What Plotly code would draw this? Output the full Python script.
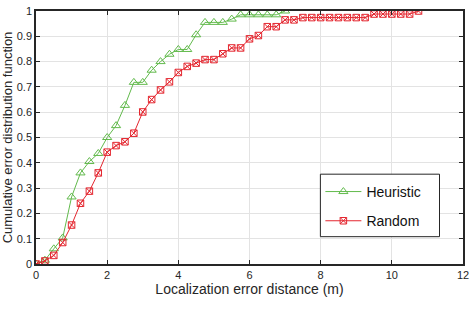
import plotly.graph_objects as go

heur_x = [0, 0.25, 0.5, 0.75, 1.0, 1.25, 1.5, 1.75, 2.0, 2.25, 2.5, 2.75, 3.0, 3.25, 3.5,
          3.75, 4.0, 4.25, 4.5, 4.75, 5.0, 5.25, 5.5, 5.75, 6.0, 6.25, 6.5, 6.75, 7.0]
heur_y = [0, 0.015, 0.06, 0.103, 0.265, 0.36, 0.405, 0.437, 0.5, 0.547, 0.627, 0.718, 0.718,
          0.766, 0.8, 0.829, 0.848, 0.848, 0.906, 0.955, 0.955, 0.955, 0.968, 0.985, 0.985,
          0.985, 0.985, 0.985, 1.0]

rand_x = [0, 0.25, 0.5, 0.75, 1.0, 1.25, 1.5, 1.75, 2.0, 2.25, 2.5, 2.75, 3.0, 3.25, 3.5,
          3.75, 4.0, 4.25, 4.5, 4.75, 5.0, 5.25, 5.5, 5.75, 6.0, 6.25, 6.5, 6.75, 7.0, 7.25,
          7.5, 7.75, 8.0, 8.25, 8.5, 8.75, 9.0, 9.25, 9.5, 9.75, 10.0, 10.25, 10.5, 10.75]
rand_y = [0, 0.012, 0.034, 0.085, 0.154, 0.24, 0.288, 0.36, 0.442, 0.468, 0.483, 0.517,
          0.601, 0.65, 0.688, 0.72, 0.757, 0.781, 0.794, 0.808, 0.808, 0.831, 0.854, 0.854,
          0.89, 0.903, 0.938, 0.938, 0.965, 0.965, 0.974, 0.974, 0.974, 0.974, 0.974, 0.974,
          0.974, 0.974, 0.988, 0.988, 0.988, 0.988, 0.988, 1.0]

x_ticks = [0, 2, 4, 6, 8, 10, 12]
y_ticks = [0, 0.1, 0.2, 0.3, 0.4, 0.5, 0.6, 0.7, 0.8, 0.9, 1]
y_tick_text = ["0", "0.1", "0.2", "0.3", "0.4", "0.5", "0.6", "0.7", "0.8", "0.9", "1"]

GREEN = "#62BA4C"
RED = "#E4262F"
AX = "#262626"

fig = go.Figure()
fig.add_trace(go.Scatter(x=heur_x, y=heur_y, mode="lines+markers", name="Heuristic",
                         legendgroup="a",
                         line=dict(color=GREEN, width=1),
                         marker=dict(symbol="triangle-up-open", size=8, color=GREEN,
                                     line=dict(width=1))))
fig.add_trace(go.Scatter(x=rand_x, y=rand_y, mode="lines+markers", name="Random",
                         legendgroup="b",
                         line=dict(color=RED, width=1),
                         marker=dict(symbol="square-x-open", size=6.5, color=RED,
                                     line=dict(width=1))))

axis_common = dict(showline=True, linecolor=AX, linewidth=1.5, mirror="ticks",
                   ticks="inside", ticklen=4, tickcolor=AX, tickwidth=1,
                   showgrid=True, gridcolor="#E3E3E3", gridwidth=1, zeroline=False,
                   tickfont=dict(family="Liberation Sans, Arial", size=11, color=AX))

# legend frame (layout box, wider than plotly's auto-sized legend)
fig.add_shape(type="rect", xref="paper", yref="paper",
              x0=0.666, x1=0.945, y0=0.108, y1=0.355,
              line=dict(color=AX, width=1), fillcolor="white", layer="above")

fig.update_layout(
    width=474, height=316,
    margin=dict(l=34, r=7, t=5, b=52),
    paper_bgcolor="white", plot_bgcolor="white",
    font=dict(family="Liberation Sans, Arial", color=AX),
    xaxis=dict(range=[0, 12], tickvals=x_ticks,
               title=dict(text="Localization error distance (m)", standoff=2,
                          font=dict(size=14, color=AX)),
               **axis_common),
    yaxis=dict(range=[0, 1], tickvals=y_ticks, ticktext=y_tick_text,
               title=dict(text="Cumulative error distribution function", standoff=3,
                          font=dict(size=13, color=AX)),
               **axis_common),
    legend=dict(x=0.666, y=0.348, xanchor="left", yanchor="top",
                bgcolor="rgba(0,0,0,0)", borderwidth=0,
                font=dict(size=14, color="#111111"), tracegroupgap=8,
                itemwidth=36),
    showlegend=True,
)

fig.write_html("out.html")
